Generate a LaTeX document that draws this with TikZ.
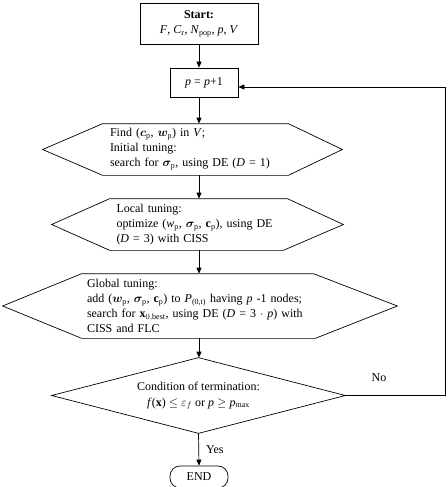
\documentclass[tikz,border=0pt]{standalone}
\usepackage{fontspec}
\setmainfont{Liberation Serif}
\usepackage{amsmath,bm}
\usetikzlibrary{calc,arrows.meta}
\newcommand{\vi}[1]{\textit{#1}}
\newcommand{\sub}[1]{\textsubscript{#1}}
\begin{document}
\begin{tikzpicture}[x=1pt,y=1pt, font=\fontsize{12}{15}\selectfont, line width=0.7pt,
  arr/.style={-{Triangle[length=6pt,width=5pt]}},
  blk/.style={inner sep=0pt, align=left},
  boxstyle/.style={draw, inner sep=0pt, align=center},
  lbl/.style={inner sep=0pt}]
\clip (0,0) rectangle (447,-487);
\fill[white] (0,0) rectangle (447,-487);

\node[boxstyle, minimum width=118, minimum height=41] (start) at (199,-23.5)
  {\textbf{Start:}\\ \vi{F}, \vi{C}\sub{r}, \vi{N}\sub{pop}, \vi{p}, \vi{V}};

\node[boxstyle, minimum width=68, minimum height=29] (pbox) at (204,-82.5)
  {\vi{p} = \vi{p}+1};

\node[blk, text width=165, minimum width=299, minimum height=51] (h1) at (192.5,-149.5)
  {Find ($\bm{c}_\mathrm{p}$, $\bm{w}_\mathrm{p}$) in \vi{V};\\
   Initial tuning:\\
   search for $\bm{\sigma}_\mathrm{p}$, using DE (\vi{D} = 1)};
\draw (h1.west) -- ($(h1.north west)+(60,0)$) -- ($(h1.north east)+(-54,0)$) -- (h1.east)
  -- ($(h1.south east)+(-54,0)$) -- ($(h1.south west)+(60,0)$) -- cycle;

\node[blk, text width=162, minimum width=291, minimum height=51] (h2) at (197.5,-224.5)
  {Local tuning:\\
   optimize (\vi{w}\sub{p}, $\bm{\sigma}_\mathrm{p}$, $\mathbf{c}_\mathrm{p}$), using DE\\
   (\vi{D} = 3) with CISS};
\draw (h2.west) -- ($(h2.north west)+(58,0)$) -- ($(h2.north east)+(-56,0)$) -- (h2.east)
  -- ($(h2.south east)+(-60,0)$) -- ($(h2.south west)+(58,0)$) -- cycle;

\node[blk, text width=226, minimum width=394, minimum height=64] (h3) at (200,-306)
  {Global tuning:\\
   add ($\bm{w}_\mathrm{p}$, $\bm{\sigma}_\mathrm{p}$, $\mathbf{c}_\mathrm{p}$) to \vi{P}\sub{(0,t)} having \vi{p} -1 nodes;\\
   search for $\mathbf{x}_{0,\mathrm{best}}$, using DE (\vi{D} = 3 $\cdot$ \vi{p}) with\\
   CISS and FLC};
\draw (h3.west) -- ($(h3.north west)+(79,0)$) -- ($(h3.north east)+(-84,0)$) -- (h3.east)
  -- ($(h3.south east)+(-82,0)$) -- ($(h3.south west)+(79,0)$) -- cycle;

\node[boxstyle, minimum width=293, minimum height=75, font=\fontsize{12}{16}\selectfont, draw=none] (cond) at (198.5,-395.5)
  {Condition of termination:\\
   \vi{f}(\textbf{x}) $\le$ $\varepsilon_{f}$ or \vi{p} $\ge$ \vi{p}\sub{max}};
\draw (cond.north) -- (cond.east) -- (cond.south) -- (cond.west) -- cycle;

\node[boxstyle, rounded corners=10, minimum width=58, minimum height=22] (end) at (199,-477) {END};

\draw[arr] (start.south) -- (start.south |- pbox.north);
\draw[arr] (start.south |- pbox.south) -- (start.south |- h1.north);
\draw[arr] (start.south |- h1.south) -- (start.south |- h2.north);
\draw[arr] (start.south |- h2.south) -- (start.south |- h3.north);
\draw[arr] (start.south |- h3.south) -- (start.south |- cond.north);
\draw[arr] (cond.south) -- (end.north) node[lbl, pos=0.5, right=7pt] (yes) {Yes};

\coordinate (fb) at (445.6,-87);
\draw[arr] (cond.east) -| (fb) -- (pbox.east |- fb);
\node[lbl] (no) at (379,-378) {No};
\end{tikzpicture}
\end{document}
